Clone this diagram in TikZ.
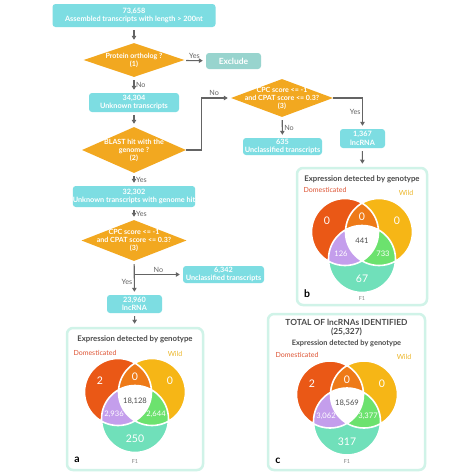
\documentclass[tikz,border=0pt]{standalone}
\usepackage{fontspec}
\setmainfont{Lato}
\usetikzlibrary{arrows.meta,positioning,shapes.geometric}
\definecolor{boxcyan}{RGB}{125,221,226}
\definecolor{excteal}{RGB}{152,212,206}
\definecolor{qorange}{RGB}{242,168,32}
\definecolor{arrowgray}{RGB}{100,100,100}
\definecolor{panelmint}{RGB}{208,243,232}
\definecolor{titlegray}{RGB}{75,75,75}
\definecolor{vdom}{RGB}{234,88,22}
\definecolor{vwild}{RGB}{246,182,22}
\definecolor{vboth}{RGB}{238,122,24}
\definecolor{vdomf}{RGB}{196,158,236}
\definecolor{vwildf}{RGB}{108,226,110}
\definecolor{vfone}{RGB}{112,224,186}
\definecolor{domred}{RGB}{222,84,52}
\definecolor{wildyel}{RGB}{236,182,40}

\newcommand{\venn}[8]{%
 \fill[vdom] (-17,0) circle[radius=33.5pt];
 \fill[vwild] (17,0) circle[radius=33.5pt];
 \fill[vfone] (0,27) circle[radius=33.5pt];
 \begin{scope}
  \clip (-17,0) circle[radius=33.5pt];
  \fill[vboth] (17,0) circle[radius=33.5pt];
  \fill[vdomf] (0,27) circle[radius=33.5pt];
 \end{scope}
 \begin{scope}
  \clip (17,0) circle[radius=33.5pt];
  \fill[vwildf] (0,27) circle[radius=33.5pt];
  \clip (-17,0) circle[radius=33.5pt];
  \fill[white] (0,27) circle[radius=33.5pt];
 \end{scope}
 \draw[white,line width=1.6pt] (-17,0) circle[radius=33.5pt]
   (17,0) circle[radius=33.5pt] (0,27) circle[radius=33.5pt];
 \node[vbig] (#1dom) at (-35,-11) {#2};
 \node[vbig] (#1both) at (0,-15) {#3};
 \node[vbig] (#1wild) at (35,-11) {#4};
 \node[vmid,text=titlegray] (#1all) at (0,9) {#5};
 \node[vmid] (#1domf) at (-21,22) {#6};
 \node[vmid] (#1wildf) at (21,22) {#7};
 \node[vbig] (#1fone) at (0,47) {#8};
}

\begin{document}
\begin{tikzpicture}[x=1pt,y=-1pt,
 flowbox/.style={fill=boxcyan,rounded corners=3pt,text=white,align=center,
                 inner sep=0pt,font=\bfseries\fontsize{7.3}{8.3}\selectfont},
 decision/.style={diamond,fill=qorange,inner sep=0pt},
 dtext/.style={text=white,align=center,font=\bfseries\fontsize{7.1}{8}\selectfont},
 yesno/.style={text=arrowgray,inner sep=1.5pt,font=\fontsize{7.2}{8}\selectfont},
 arrow/.style={-{Triangle[length=4pt,width=4.5pt]},line width=1.1pt,draw=arrowgray,
               shorten >=3pt,shorten <=3pt},
 panel/.style={draw=panelmint,line width=2.5pt,rounded corners=6pt},
 ptitle/.style={text=titlegray,align=center,font=\bfseries\fontsize{7.8}{9}\selectfont},
 geno/.style={font=\fontsize{7}{8}\selectfont},
 fone/.style={text=gray,font=\fontsize{5.5}{6}\selectfont},
 plabel/.style={font=\bfseries\fontsize{10.5}{12}\selectfont},
 vbig/.style={text=white,font=\fontsize{10.5}{12}\selectfont},
 vmid/.style={text=white,font=\fontsize{7.6}{9}\selectfont}]
 \useasboundingbox[fill=white] (0,0) rectangle (474,474);

 \node[flowbox,minimum width=163pt,minimum height=23pt] (top) at (134,15.5)
   {73,658\\Assembled transcripts with length > 200nt};
 \node[decision,minimum width=101pt,minimum height=34pt] (q1) at (134,60) {};
 \node[dtext] (q1t) at (q1) {Protein ortholog ?\\(1)};
 \node[flowbox,fill=excteal,minimum width=55pt,minimum height=16pt] (exclude) at (233.5,61)
   {\fontsize{8.5}{10}\selectfont Exclude};
 \node[flowbox,minimum width=90pt,minimum height=19pt] (unk) at (134,102.5)
   {34,304\\Unknown transcripts};
 \node[decision,minimum width=104pt,minimum height=46pt] (q2) at (134,150) {};
 \node[dtext] (q2t) at (q2) {BLAST hit with the\\genome ?\\(2)};
 \node[flowbox,minimum width=120pt,minimum height=21pt] (hit) at (134,196.5)
   {32,302\\Unknown transcripts with genome hit};
 \node[decision,minimum width=105pt,minimum height=41pt] (q3) at (134,240.5) {};
 \node[dtext] (q3t) at (q3) {CPC score <= -1\\and CPAT score <= 0.3?\\(3)};
 \node[flowbox,minimum width=81pt,minimum height=17pt] (unc2) at (223.5,274.5)
   {6,342\\Unclassified transcripts};
 \node[flowbox,minimum width=55pt,minimum height=18pt] (lnc) at (134.5,304)
   {23,960\\lncRNA};
 \node[decision,minimum width=102pt,minimum height=38pt] (q4) at (282,98) {};
 \node[dtext] (q4t) at (q4) {CPC score <= -1\\and CPAT score <= 0.3?\\(3)};
 \node[flowbox,minimum width=79pt,minimum height=17pt] (unc1) at (282.5,146.5)
   {635\\Unclassified transcripts};
 \node[flowbox,minimum width=45pt,minimum height=19pt] (lnc2) at (362.5,138.5)
   {1,367\\lncRNA};

 \node[panel,minimum width=130pt,minimum height=137pt] (pb) at (362,236.5) {};
 \node[panel,minimum width=136pt,minimum height=142pt] (pa) at (135,399) {};
 \node[panel,minimum width=157pt,minimum height=156pt] (pc) at (346.5,392) {};

 \draw[arrow] (top) -- (q1);
 \draw[arrow] (q1) -- node[yesno,above]{Yes} (exclude);
 \draw[arrow] (q1) -- node[yesno,right]{No} (unk);
 \draw[arrow] (unk) -- (q2);
 \draw[arrow,shorten <=0pt] (q2.east) -- ++(15,0) |- node[yesno,above,pos=0.72]{No} (q4.west);
 \draw[arrow] (q2) -- node[yesno,right]{Yes} (hit);
 \draw[arrow] (hit) -- node[yesno,right]{Yes} (q3);
 \draw[arrow] (q3) -- node[yesno,left,pos=0.62]{Yes} (lnc);
 \coordinate (split) at (q3.south |- unc2.west);
 \draw[arrow,shorten <=0pt] (split) -- node[yesno,above]{No} (unc2);
 \draw[arrow] (q4) -- node[yesno,right]{No} (unc1);
 \draw[arrow,shorten <=0pt] (q4.east) -| node[yesno,left,pos=0.72]{Yes} (lnc2);
 \draw[arrow] (lnc2) -- (pb);
 \draw[arrow] (lnc) -- (pa);

 \node[ptitle] (btitle) at (362,179) {Expression detected by genotype};
 \node[geno,text=domred] (bdomt) at (325,190) {Domesticated};
 \node[geno,text=wildyel] (bwildt) at (406,193) {Wild};
 \begin{scope}[shift={(362,232)}]
  \venn{b}{0}{0}{0}{441}{126}{733}{67}
 \end{scope}
 \node[plabel] (blab) at (307,294) {b};
 \node[fone] (bfone) at (362,299) {F1};

 \node[ptitle] (atitle) at (135,339) {Expression detected by genotype};
 \node[geno,text=domred] (adomt) at (95,353) {Domesticated};
 \node[geno,text=wildyel] (awildt) at (175,354) {Wild};
 \begin{scope}[shift={(135,392)}]
  \venn{a}{2}{0}{0}{18,128}{2,936}{2,644}{250}
 \end{scope}
 \node[plabel] (alab) at (77,460) {a};
 \node[fone] (afone) at (135,462) {F1};

 \node[ptitle,font=\bfseries\fontsize{8.4}{9.4}\selectfont] (ctitle) at (346.5,327.5)
   {TOTAL OF lncRNAs IDENTIFIED\\(25,327)};
 \node[ptitle,font=\bfseries\fontsize{7.4}{8}\selectfont] (csub) at (346.5,343)
   {Expression detected by genotype};
 \node[geno,text=domred] (cdomt) at (297,355) {Domesticated};
 \node[geno,text=wildyel] (cwildt) at (404,357) {Wild};
 \begin{scope}[shift={(347,394.5)}]
  \venn{c}{2}{0}{0}{18,569}{3,062}{3,377}{317}
 \end{scope}
 \node[plabel] (clab) at (278,461) {c};
 \node[fone] (cfone) at (347,462) {F1};
\end{tikzpicture}
\end{document}
